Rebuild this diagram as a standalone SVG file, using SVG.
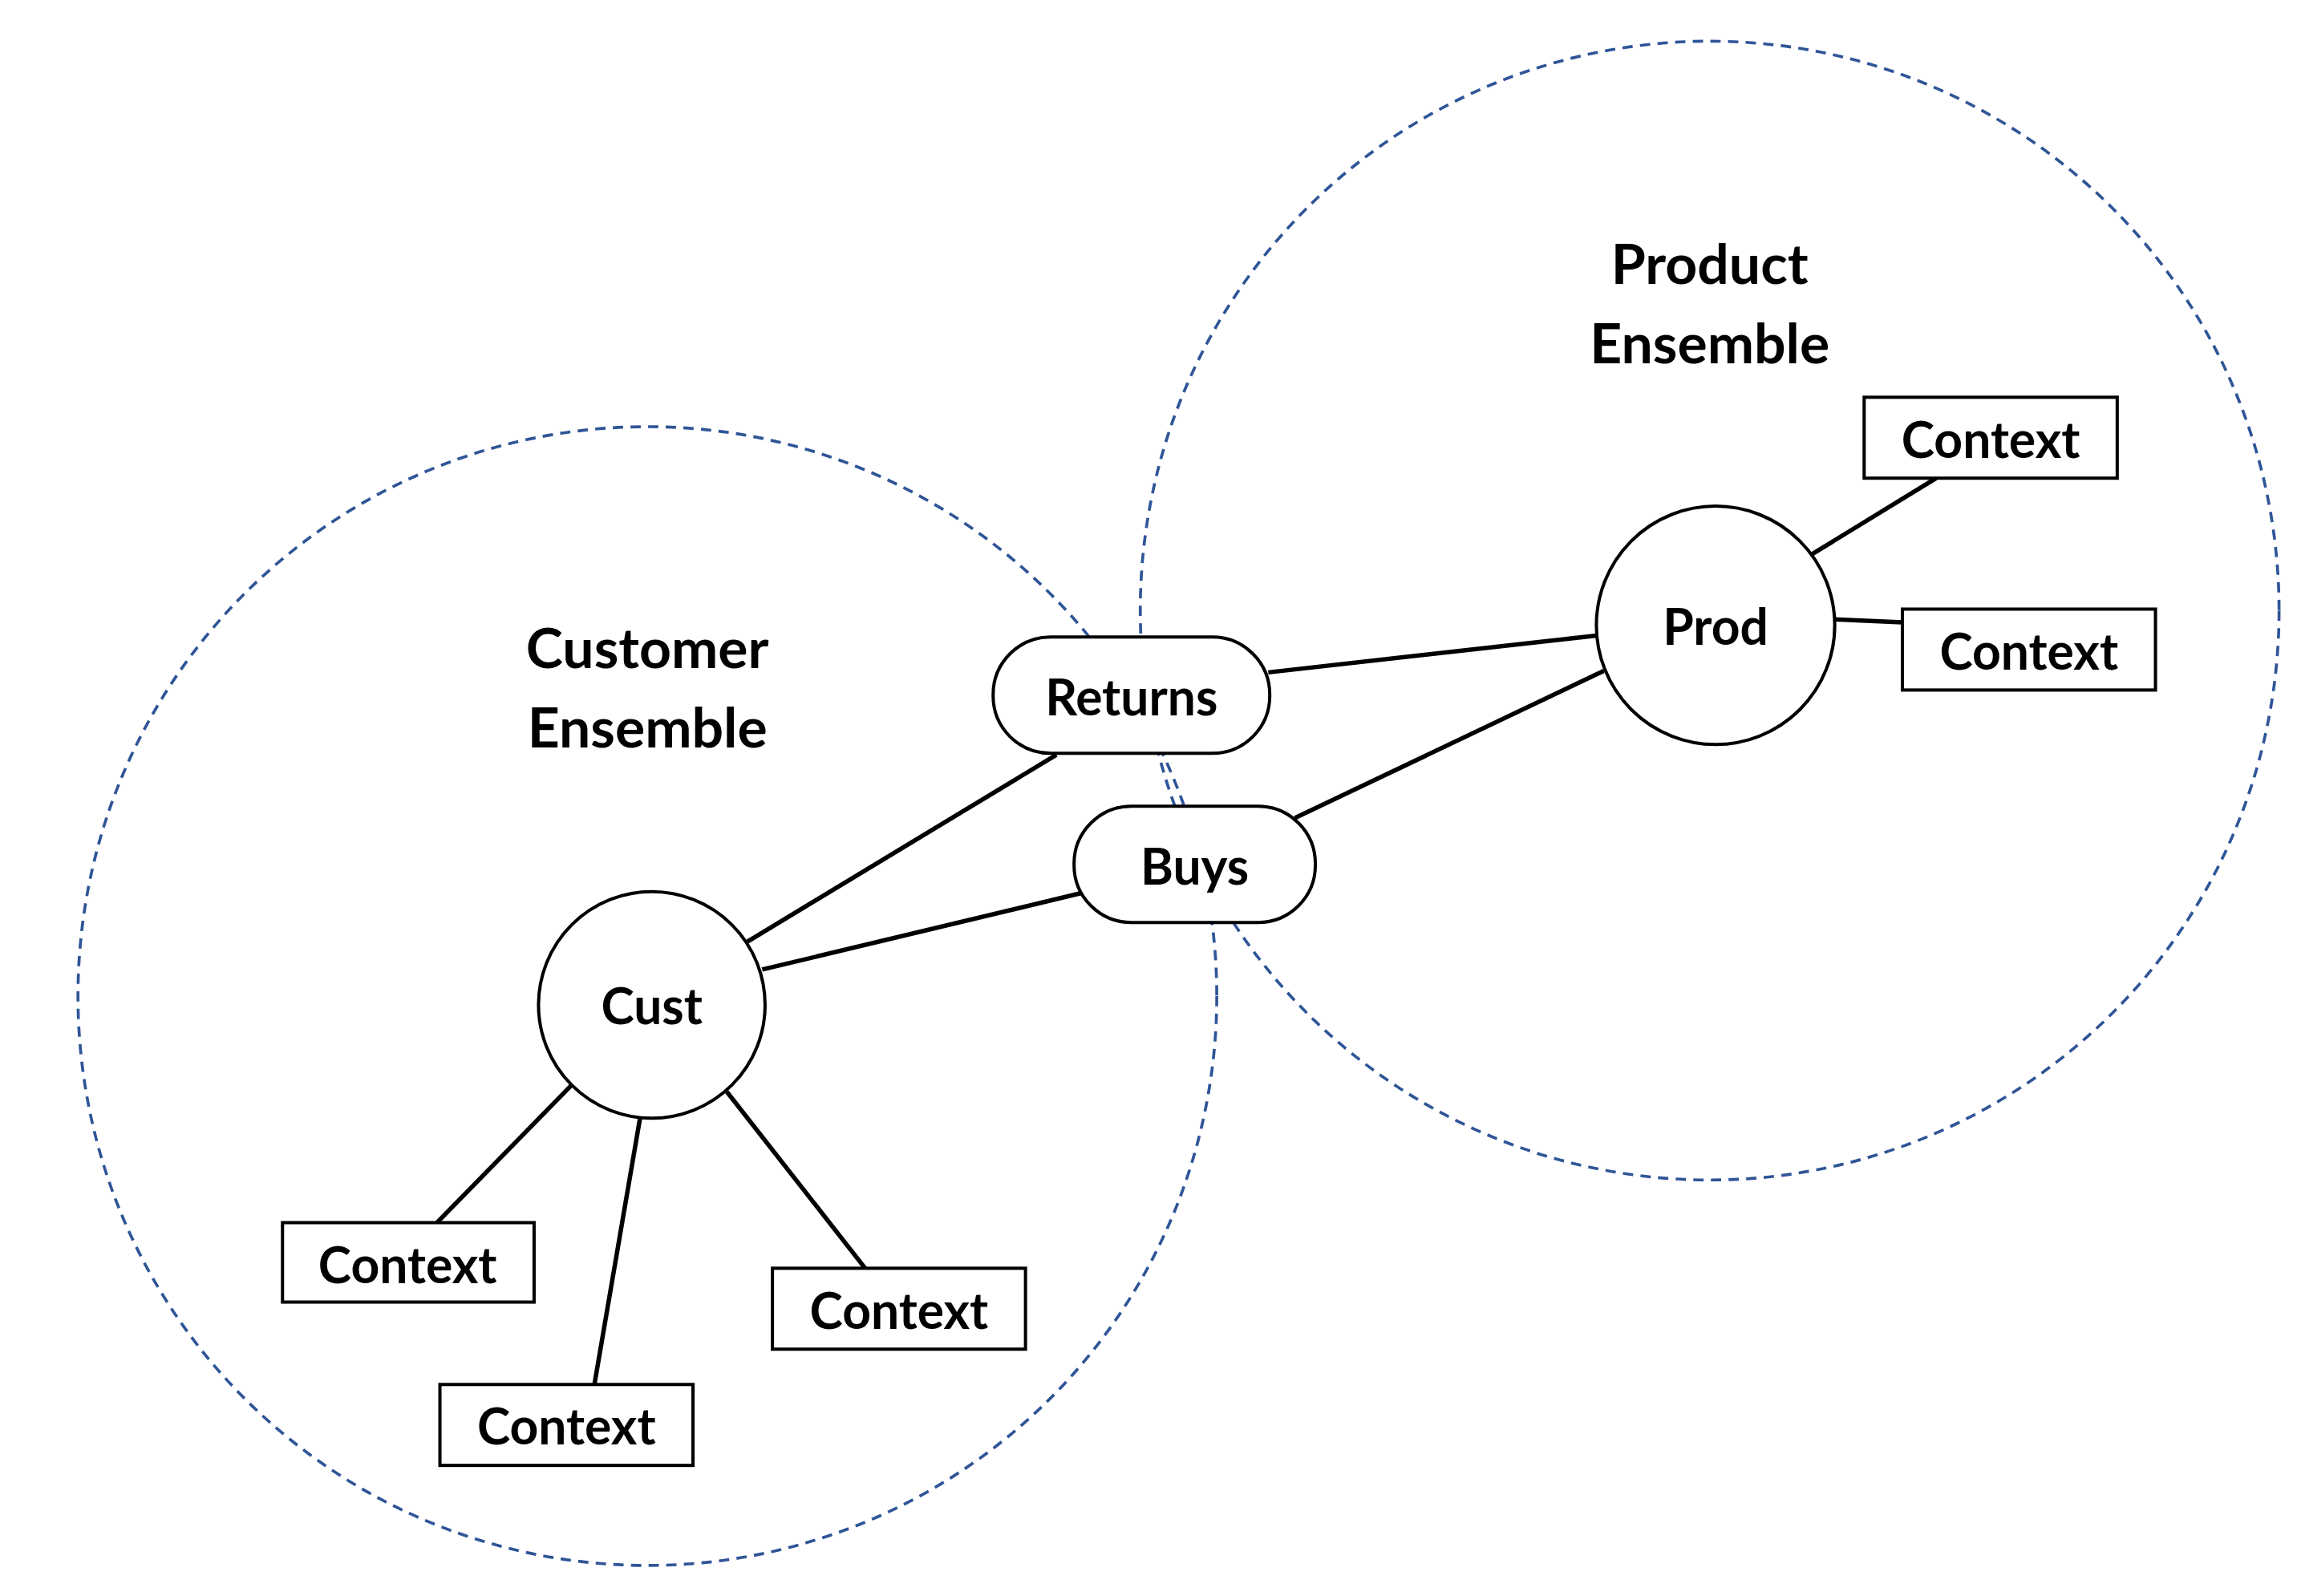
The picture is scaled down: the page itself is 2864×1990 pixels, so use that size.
<svg xmlns="http://www.w3.org/2000/svg" width="2864" height="1990" viewBox="0 0 2864 1990">
<style>
.ens{fill:none;stroke:#2F5597;stroke-width:2;stroke-dasharray:7 5}
.n{fill:#fff;stroke:#000;stroke-width:2.2}
.c{stroke:#000;stroke-width:3;fill:none}
text{font-family:Lato,"Liberation Sans",sans-serif;font-weight:bold;font-size:34px;text-anchor:middle;fill:#000}
.t{font-size:38px}
</style>
<rect width="2864" height="1990" fill="#fff"/>
<g transform="scale(1.8345)">
<g id="customer-ensemble"><circle class="ens" cx="440" cy="677" r="387"/><text class="t" x="440" y="454">Customer</text><text class="t" x="440" y="508">Ensemble</text></g>
<g id="product-ensemble"><circle class="ens" cx="1162" cy="415" r="387"/><text class="t" x="1162" y="193">Product</text><text class="t" x="1162" y="247">Ensemble</text></g>
<g id="connectors">
<line class="c" x1="508" y1="640" x2="718" y2="513"/>
<line class="c" x1="518" y1="659" x2="735" y2="607"/>
<line class="c" x1="862" y1="457" x2="1085" y2="432"/>
<line class="c" x1="880" y1="556" x2="1090" y2="456"/>
<line class="c" x1="1231" y1="377" x2="1316" y2="325"/>
<line class="c" x1="1247" y1="421" x2="1293" y2="423"/>
<line class="c" x1="388" y1="738" x2="297" y2="831"/>
<line class="c" x1="435" y1="760" x2="404" y2="941"/>
<line class="c" x1="494" y1="742" x2="588" y2="862"/>
</g>
<g id="cust"><circle class="n" cx="443" cy="683" r="77"/><text x="443" y="696">Cust</text></g>
<g id="prod"><circle class="n" cx="1166" cy="425" r="81"/><text x="1166" y="438">Prod</text></g>
<g id="returns"><rect class="n" x="675" y="433" width="188" height="79" rx="39"/><text x="769" y="486">Returns</text></g>
<g id="buys"><rect class="n" x="730" y="548" width="164" height="79" rx="39"/><text x="812" y="601">Buys</text></g>
<g id="ctx-p1"><rect class="n" x="1267" y="270" width="172" height="55"/><text x="1353" y="311">Context</text></g>
<g id="ctx-p2"><rect class="n" x="1293" y="414" width="172" height="55"/><text x="1379" y="455">Context</text></g>
<g id="ctx-c1"><rect class="n" x="192" y="831" width="171" height="54"/><text x="277" y="872">Context</text></g>
<g id="ctx-c2"><rect class="n" x="299" y="941" width="172" height="55"/><text x="385" y="982">Context</text></g>
<g id="ctx-c3"><rect class="n" x="525" y="862" width="172" height="55"/><text x="611" y="903">Context</text></g>
</g>
</svg>
